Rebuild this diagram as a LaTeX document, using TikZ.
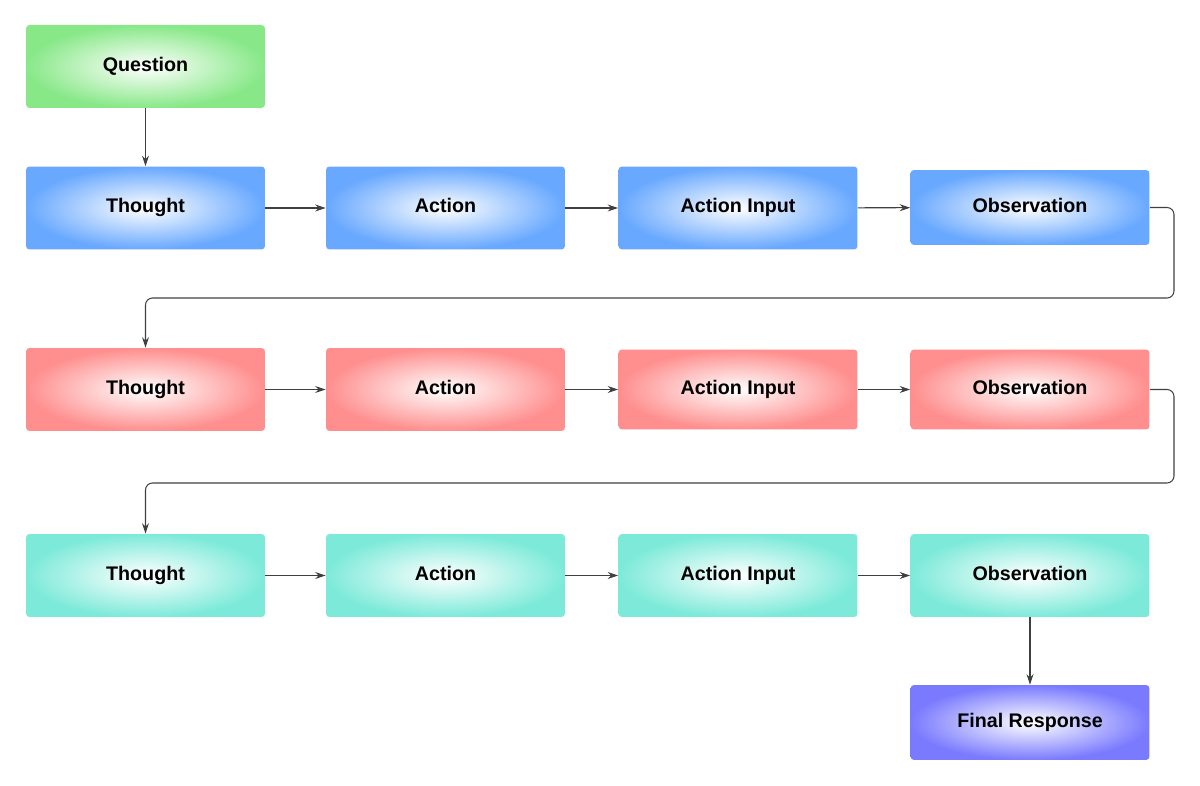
\documentclass[tikz,border=0pt]{standalone}
\usepackage{fontspec}
\setmainfont{Liberation Sans}
\usetikzlibrary{arrows.meta, positioning}
\definecolor{qgreen}{RGB}{136,232,136}
\definecolor{tblue}{RGB}{104,168,255}
\definecolor{tred}{RGB}{255,142,142}
\definecolor{tteal}{RGB}{125,234,217}
\definecolor{fpurple}{RGB}{122,122,255}
\begin{document}
\begin{tikzpicture}[x=0.02cm, y=-0.02cm,
    box/.style={rectangle, rounded corners=2pt, minimum width=4.78cm, minimum height=1.66cm, align=center, text height=8pt, text depth=2.5pt, font=\fontsize{11.2}{13}\selectfont\bfseries, inner color=white, outer color=#1},
    arrow/.style={-{Stealth[length=6pt, width=4pt]}, line width=0.6pt, draw=black!75, rounded corners=4pt}
]
\useasboundingbox (0,0) rectangle (1200,786);

\node[box=qgreen] (question) at (145.5,66.5) {Question};

\node[box=tblue] (thought1) at (145.5,208) {Thought};
\node[box=tblue] (action1) at (445.5,208) {Action};
\node[box=tblue] (input1) at (738,208) {Action Input};
\node[box=tblue, minimum height=1.5cm] (obs1) at (1030,207.5) {Observation};

\node[box=tred] (thought2) at (145.5,389.5) {Thought};
\node[box=tred] (action2) at (445.5,389.5) {Action};
\node[box=tred, minimum height=1.6cm] (input2) at (738,389.5) {Action Input};
\node[box=tred, minimum height=1.6cm] (obs2) at (1030,389.5) {Observation};

\node[box=tteal] (thought3) at (145.5,575.5) {Thought};
\node[box=tteal] (action3) at (445.5,575.5) {Action};
\node[box=tteal] (input3) at (738,575.5) {Action Input};
\node[box=tteal] (obs3) at (1030,575.5) {Observation};

\node[box=fpurple, minimum height=1.5cm] (final) at (1030,722.5) {Final Response};

\coordinate (turn1) at (1174,298);
\coordinate (turn2) at (1174,483);

\draw[arrow] (question) -- (thought1);
\draw[arrow] (thought1) -- (action1);
\draw[arrow] (action1) -- (input1);
\draw[arrow] (input1) -- (obs1);
\draw[arrow] (obs1.east) -| (turn1) -| (thought2.north);
\draw[arrow] (thought2) -- (action2);
\draw[arrow] (action2) -- (input2);
\draw[arrow] (input2) -- (obs2);
\draw[arrow] (obs2.east) -| (turn2) -| (thought3.north);
\draw[arrow] (thought3) -- (action3);
\draw[arrow] (action3) -- (input3);
\draw[arrow] (input3) -- (obs3);
\draw[arrow] (obs3) -- (final);

\end{tikzpicture}
\end{document}
